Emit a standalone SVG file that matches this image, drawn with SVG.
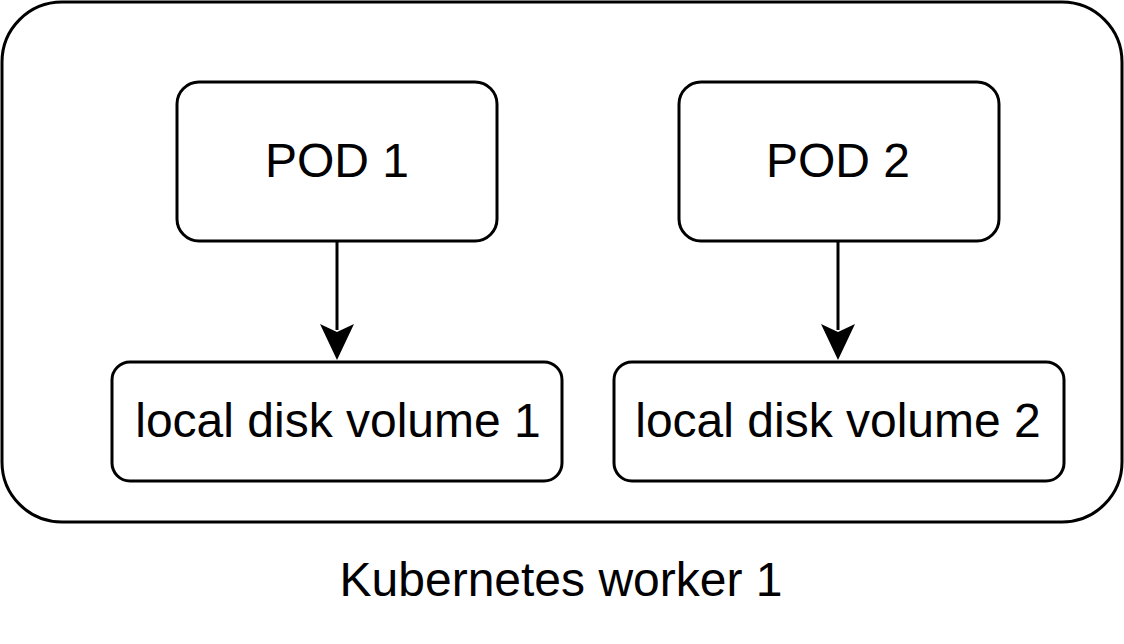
<svg xmlns="http://www.w3.org/2000/svg" width="1124" height="644" viewBox="0 0 1124 644">
<style>
.b{fill:#fff;stroke:#000;stroke-width:3}
.t{font-family:"Liberation Sans",Arial,sans-serif;font-size:48px;text-anchor:middle;fill:#000}
.c{stroke:#000;stroke-width:3;fill:none}
</style>
<rect width="1124" height="644" fill="#fff"/>
<g id="worker"><rect class="b" x="2" y="2" width="1120" height="520" rx="60"/><text class="t" x="561" y="596">Kubernetes worker 1</text></g>
<g id="pod1"><rect class="b" x="177" y="82" width="320" height="159" rx="22"/><text class="t" x="337" y="177">POD 1</text></g>
<g id="pod2"><rect class="b" x="679" y="82" width="320" height="159" rx="22"/><text class="t" x="838" y="177">POD 2</text></g>
<g id="vol1"><rect class="b" x="112" y="362" width="450" height="119" rx="18"/><text class="t" x="338" y="437">local disk volume 1</text></g>
<g id="vol2"><rect class="b" x="614" y="362" width="450" height="119" rx="18"/><text class="t" x="838" y="437">local disk volume 2</text></g>
<g id="connectors">
<path class="c" d="M337,241 V330"/><path d="M320,324 L337,360 L354,324 L337,332 Z"/>
<path class="c" d="M838,241 V330"/><path d="M821,324 L838,360 L855,324 L838,332 Z"/>
</g>
</svg>
